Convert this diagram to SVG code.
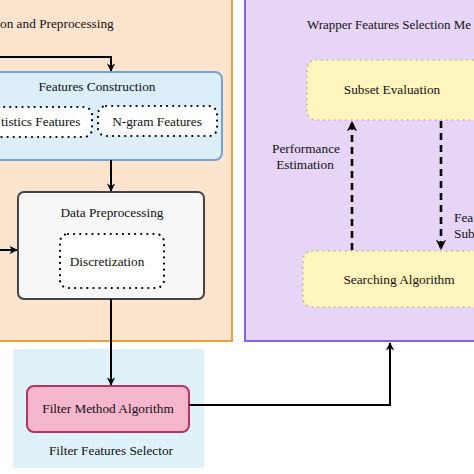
<svg xmlns="http://www.w3.org/2000/svg" width="474" height="474" viewBox="0 0 474 474">
<defs>
<marker id="ah" viewBox="0 0 10 10" refX="9" refY="5" markerWidth="4.2" markerHeight="4.2" orient="auto-start-reverse" markerUnits="strokeWidth"><path d="M0,0 L10,5 L0,10 L3,5 z" fill="#000"/></marker>
<marker id="ahd" viewBox="0 0 10 10" refX="9" refY="5" markerWidth="4" markerHeight="4" orient="auto-start-reverse" markerUnits="strokeWidth"><path d="M0,0 L10,5 L0,10 L3,5 z" fill="#000"/></marker>
<style>
text{font-family:"Liberation Serif","Times New Roman",serif;font-size:13.3px;fill:#111}
.c{text-anchor:middle}
.dot{fill:#fff;stroke:#000;stroke-width:2.2;stroke-dasharray:0.1 6;stroke-linecap:round}
.ydot{fill:#FFF5BD;stroke:#B8A86A;stroke-width:1.6;stroke-dasharray:0.1 5.5;stroke-linecap:round}
.ln{fill:none;stroke:#000;stroke-width:2;marker-end:url(#ah)}
.dl{fill:none;stroke:#000;stroke-width:2.6;stroke-dasharray:7 5;marker-end:url(#ahd)}
</style>
</defs>
<rect width="474" height="474" fill="#fff"/>
<g id="preprocessing-panel">
<rect x="-10" y="-10" width="242" height="351" fill="#FCE4CF" stroke="#E8A23A" stroke-width="2"/>
<text x="0" y="28">on and Preprocessing</text>
</g>
<g id="wrapper-panel">
<rect x="245" y="-10" width="240" height="351" fill="#E6D5F6" stroke="#7E66DE" stroke-width="2"/>
<text x="307" y="29" textLength="164" lengthAdjust="spacingAndGlyphs">Wrapper Features Selection Me</text>
</g>
<g id="filter-panel">
<rect x="13" y="349" width="191" height="119" fill="#DFF2F9"/>
<text class="c" x="111" y="455">Filter Features Selector</text>
</g>
<g id="features-construction">
<rect x="-10" y="72" width="232" height="88" rx="7" fill="#DCEEF8" stroke="#6FA6DA" stroke-width="2"/>
<text class="c" x="97" y="91">Features Construction</text>
</g>
<g id="statistics-features">
<rect x="-10" y="107" width="102" height="30" rx="8" class="dot"/>
<text x="1" y="126">tistics Features</text>
</g>
<g id="ngram-features">
<rect x="98" y="106" width="119" height="30" rx="8" class="dot"/>
<text class="c" x="157" y="126">N-gram  Features</text>
</g>
<g id="data-preprocessing">
<rect x="18" y="192" width="186" height="107" rx="6" fill="#F7F7F7" stroke="#444" stroke-width="2"/>
<text class="c" x="112" y="217">Data Preprocessing</text>
</g>
<g id="discretization">
<rect x="60" y="234" width="104" height="54" rx="8" class="dot"/>
<text class="c" x="107" y="266">Discretization</text>
</g>
<g id="filter-method">
<rect x="27" y="386" width="162" height="46" rx="7" fill="#F6B6CD" stroke="#B23660" stroke-width="2"/>
<text class="c" x="108" y="413">Filter Method Algorithm</text>
</g>
<g id="subset-evaluation">
<rect x="307" y="60" width="180" height="60" rx="9" class="ydot"/>
<text class="c" x="392" y="94">Subset Evaluation</text>
</g>
<g id="searching-algorithm">
<rect x="303" y="251" width="184" height="56" rx="9" class="ydot"/>
<text class="c" x="399" y="284">Searching Algorithm</text>
</g>
<g id="connectors">
<path class="ln" d="M-2,57 H111 V71"/>
<path class="ln" d="M111,160 V191"/>
<path class="ln" d="M-2,250 H17"/>
<path class="ln" d="M111,299 V385"/>
<path class="ln" d="M189,405 H390 V343"/>
<path class="dl" d="M352,250 V122"/>
<path class="dl" d="M441,121 V249"/>
<text class="c" x="306" y="153">Performance</text>
<text class="c" x="305" y="169">Estimation</text>
<text x="454" y="222">Fea</text>
<text x="454" y="238">Sub</text>
</g>
</svg>
